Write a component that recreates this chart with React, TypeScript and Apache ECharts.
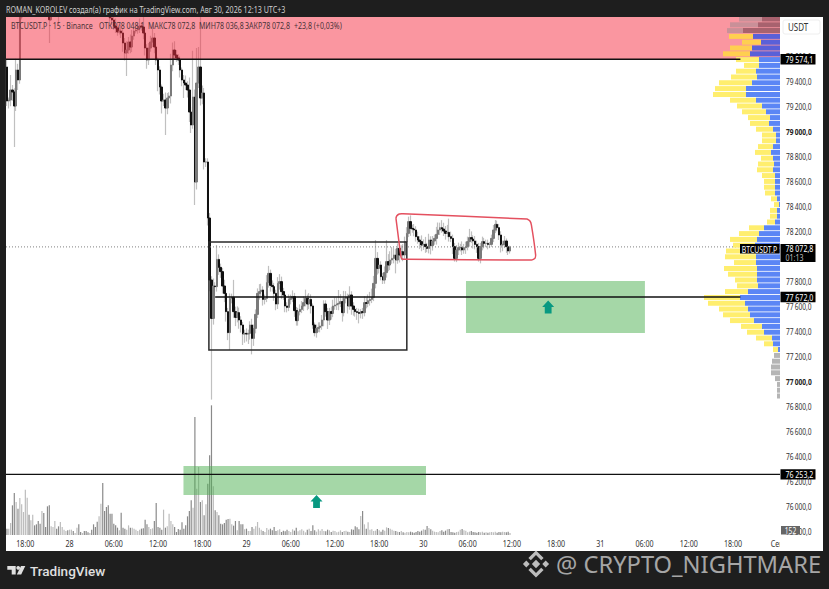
import React, { useEffect, useRef } from "react";
import * as echarts from "echarts";

const FONT = "'Noto Sans', sans-serif";
const firstOpen = 79512;
const closes = [
  79240,79248,79328,79312,79200,79488,79408,79912,79985,80030,
  80075,80120,80090,80140,80180,80150,80110,80070,80040,80090,
  80060,80020,79975,79890,79950,80000,80040,79985,79930,79990,
  80045,80090,80130,80110,80160,80200,80170,80210,80250,80220,
  80180,80225,80190,80140,80100,80130,80085,80040,80000,79970,
  80010,80070,80030,79990,79950,79920,79904,79888,79840,79824,
  79792,79800,79784,79704,79624,79648,79712,79672,79760,79800,
  79808,79824,79840,79832,79784,79664,79568,79664,79712,79744,
  79672,79568,79488,79352,79240,79248,79184,79264,79280,79528,
  79648,79608,79584,79568,79488,79408,79384,79368,79328,79152,
  79048,79272,78592,79384,79512,79264,79304,78752,78752,78304,
  77808,77501,77760,77755,77973,77909,77875,77760,77701,77555,
  77387,77661,77669,77555,77509,77547,77488,77448,77376,77381,
  77376,77381,77448,77341,77421,77533,77701,77715,77728,77653,
  77661,77787,77861,77765,77755,77701,77616,77781,77795,77715,
  77688,77600,77589,77653,77661,77675,77563,77483,77555,77573,
  77600,77627,77661,77616,77653,77600,77448,77387,77421,77429,
  77440,77488,77616,77555,77488,77555,77541,77600,77608,77616,
  77621,77635,77547,77661,77669,77600,77688,77600,77573,77555,
  77549,77541,77555,77547,77627,77621,77643,77653,77669,77781,
  77981,77901,77928,77835,77808,77867,77955,77928,77968,77981,
  78008,77968,78061,78008,78035,78008,78115,78181,78275,78221,
  78216,78208,78155,78128,78115,78088,78093,78075,78061,78128,
  78083,78120,78141,78173,78208,78227,78216,78200,78181,78189,
  78155,78141,78075,77981,78048,78067,78067,78048,78067,78075,
  78115,78147,78136,78120,78093,78075,77981,78075,78115,78101,
  78101,78093,78093,78141,78208,78253,78227,78168,78088,78093,
  78120,78075,78040,78072.8,
];
const upperWicks = [
  60,20,120,40,30,90,50,210,80,60,
  70,40,90,60,50,30,70,40,100,60,
  40,80,50,60,40,90,30,50,120,40,
  60,30,50,70,40,20,60,30,80,50,
  40,60,30,50,20,40,70,30,90,60,
  50,120,150,60,80,40,60,50,30,60,
  40,30,50,30,40,70,40,60,50,30,
  30,40,60,30,80,20,30,40,50,100,
  40,30,20,30,20,50,60,40,30,90,
  60,70,40,30,30,20,40,60,30,100,
  40,370,60,280,160,490,60,40,30,30,
  40,30,60,30,115,40,30,30,50,30,
  30,40,30,140,40,50,40,30,25,30,
  40,30,30,50,30,40,40,60,50,30,
  30,60,60,30,40,30,30,50,60,40,
  30,30,30,40,30,50,30,30,30,40,
  40,50,70,30,50,40,20,20,30,40,
  30,40,30,30,30,30,40,50,60,50,
  107,60,30,60,50,30,70,30,30,20,
  30,30,20,30,50,40,50,60,70,60,
  147,50,40,30,30,50,173,60,70,90,
  60,50,40,30,50,60,40,50,40,50,
  30,40,30,40,30,50,40,60,30,50,
  30,40,30,60,60,40,60,50,40,60,
  110,40,30,30,40,40,30,50,30,40,
  40,70,50,30,40,30,30,30,40,30,
  30,30,20,30,40,35,30,30,30,30,
  40,20,30,10,
];
const lowerWicks = [
  40,60,50,70,328,40,80,30,20,15,
  20,15,25,10,20,15,20,25,15,20,
  10,20,15,186,10,15,20,15,82,10,
  20,15,25,10,20,15,20,25,15,20,
  10,20,15,20,10,15,20,15,25,15,
  20,15,25,10,20,15,30,40,30,40,
  30,20,40,70,60,184,30,50,40,30,
  20,30,40,30,50,60,70,40,30,40,
  50,40,170,60,100,40,216,50,40,60,
  50,40,30,40,60,50,120,40,60,80,
  64,30,184,60,40,60,50,60,40,60,
  90,650,50,60,40,60,50,60,70,80,
  60,139,40,50,70,40,70,60,88,70,
  60,80,50,128,60,40,30,50,40,50,
  40,30,40,50,40,60,50,40,50,60,
  40,50,40,30,40,30,50,40,40,30,
  30,40,30,50,40,60,30,30,40,30,
  40,30,50,40,72,40,50,30,30,40,
  50,30,72,30,40,60,30,70,50,40,
  60,80,40,50,30,40,30,40,30,30,
  40,50,40,30,32,30,40,50,40,30,
  40,107,30,60,40,50,30,40,30,60,
  30,50,40,30,60,50,40,50,30,40,
  70,40,30,50,30,40,30,40,50,30,
  40,30,60,26,30,40,30,40,30,50,
  30,40,30,60,40,50,26,40,30,40,
  30,40,30,20,30,25,30,40,60,50,
  30,50,32,20,
];
const volumes = [
  475,475,900,2225,3150,2475,1975,2775,2300,1725,
  3400,2800,1525,1100,1525,725,800,1050,850,1800,
  1650,600,2150,2225,650,600,1050,475,650,975,
  600,400,300,350,400,400,300,150,550,800,
  225,150,300,300,200,150,400,800,600,1000,
  1400,2350,3900,1800,2100,2225,1600,1600,850,725,
  550,350,1675,550,475,400,725,550,550,475,
  400,300,400,475,500,1150,800,600,450,500,
  1050,2400,600,550,400,1900,550,650,1600,1050,
  800,600,225,450,400,950,475,725,1400,1800,
  2600,2050,8850,3475,5100,2475,2600,1475,2300,3850,
  5975,9725,3650,1850,1725,1475,850,800,900,1150,
  1200,1225,800,700,1050,350,1050,800,800,425,
  475,300,300,600,475,650,975,550,400,300,
  225,525,400,475,350,600,300,350,425,225,
  325,275,400,300,225,425,325,550,275,350,
  425,325,200,400,475,300,725,350,250,425,
  325,450,300,275,400,350,225,325,300,200,
  250,350,225,300,325,250,225,425,400,650,
  575,425,1425,1800,800,475,950,400,425,300,
  325,450,350,250,400,325,575,525,475,400,
  325,300,250,225,300,200,175,225,200,250,
  200,175,225,300,250,325,425,400,675,525,
  425,325,250,225,200,300,350,250,325,425,
  450,225,200,175,225,250,400,450,350,325,
  200,250,300,225,200,175,225,200,250,175,
  200,175,200,225,200,250,175,225,200,250,
  225,200,250,152,
];
const profileBuy = [
  18,22,37,27,19,28,30,21,21,24,23,28,34,34,24,18,14,10,11,7,
  4,4,7,9,7,6,7,5,5,5,5,3,1,3,3,5,16,21,23,25,
  24,24,24,23,23,23,22,32,40,35,32,30,26,18,16,8,7,2,0,0,
  0,0,0,0,0,0,
];
const profileSell = [
  23,28,16,24,19,22,27,23,15,20,26,33,31,33,26,25,24,22,19,17,
  14,14,15,16,12,16,16,13,11,11,10,6,5,7,7,8,15,20,27,22,
  30,31,22,33,29,22,21,23,36,37,29,27,24,21,17,16,9,5,0,0,
  0,0,0,0,0,0,
];
const profileOutside = [
  0,0,0,0,0,0,0,0,0,0,0,0,0,0,0,0,0,0,0,0,
  0,0,0,0,0,0,0,0,0,0,0,0,0,0,0,0,0,0,0,0,
  0,0,0,0,0,0,0,0,0,0,0,0,0,0,0,0,0,0,6,8,
  9,9,5,3,3,3,
];
const tickLabels = ["18:00","28","06:00","12:00","18:00","29","06:00","12:00","18:00","30","06:00","12:00","18:00","31","06:00","12:00","18:00","Сен"];
const priceTicks = [
  79600,79400,79200,79000,78800,78600,78400,78200,77800,77600,77400,
  77200,77000,76800,76600,76400,76200,76000,75800,
];
const boldTicks = [79000, 77000];
const legendParts: [number, string][] = [
  [11, "BTCUSDT.P · 15 · Binance"],
  [99, "ОТКР78 048,1"],
  [148, "МАКС78 072,8"],
  [199, "МИН78 036,8"],
  [245, "ЗАКР78 072,8"],
  [294, "+23,8 (+0,03%)"],
];
const boxes = [{ from: 109.6, to: 217, top: 78112, bottom: 77248 }];
const zones = [
  { from: 249.1, to: 346.2, top: 77800, bottom: 77384 },
  { from: 95.8, to: 227.4, top: 76320, bottom: 76088 },
];
const arrows = [{ at: 168, price: 76036 }, { at: 293.7, price: 77592 }];
const levels = [
  { price: 79574.1, from: -0.5, to: 398 },
  { price: 77672, from: 113, to: 398 },
  { price: 76253.2, from: -0.5, to: 419.5 },
];
const lastPrice = 78072.8;
const tags = [
  { price: 79574.1, text: "79 574,1" },
  { price: 77672, text: "77 672,0" },
  { price: 76253.2, text: "76 253,2" },
];
const outline: number[][] = [
  [211.1,78302],[211.5,78320],[212.9,78336],[214.9,78338],
  [282.2,78296],[283.8,78280],[284.6,78248],[286.9,78008],
  [286.5,77981],[284.7,77968],[217,77974],[214.4,77976],[213.8,77994],[211.1,78302],
];

const toPeaks = (c: number[]) => c.map((close, i) => {
  const open = i === 0 ? firstOpen : c[i - 1];
  return { open, close, high: Math.max(open, close) + (upperWicks[i] ?? 0), low: Math.min(open, close) - (lowerWicks[i] ?? 0) };
});
const candles = toPeaks(closes);
const categories = Array.from({ length: 420 }, (_, i) => String(i));

const diamond = (cx: number, cy: number, r: number) => [[cx, cy - r], [cx + r, cy], [cx, cy + r], [cx - r, cy]];
const GREY = "#bdbdbd";
const binance = (cx: number, cy: number) => [
  diamond(cx, cy, 4.2), diamond(cx - 9.7, cy, 3.4), diamond(cx + 9.7, cy, 3.4),
  [[cx, cy - 13.5], [cx + 7.6, cy - 6], [cx + 5.2, cy - 3.7], [cx, cy - 8.9], [cx - 5.2, cy - 3.7], [cx - 7.6, cy - 6]],
  [[cx, cy + 13.5], [cx + 7.6, cy + 6], [cx + 5.2, cy + 3.7], [cx, cy + 8.9], [cx - 5.2, cy + 3.7], [cx - 7.6, cy + 6]],
];

// The reference's type is condensed, so all small labels are drawn squeezed horizontally.
const label = (x: number, y: number, text: string, o: any = {}) => ({
  type: "text", x, y, scaleX: o.sx ?? 0.72, z: o.z,
  style: {
    x: 0, y: 0, text, fill: o.color ?? "#333",
    font: `${o.weight ?? 400} ${o.size ?? 9.5}px ${FONT}`,
    textAlign: o.align ?? "left", textVerticalAlign: "middle",
  },
});
const priceText = (v: number) => `${Math.floor(v / 1000)}\u2009${String(v % 1000).padStart(3, "0")},0`;

export default function App() {
  const ref = useRef<HTMLDivElement>(null);
  useEffect(() => {
    document.body.style.margin = "0";
    const chart = echarts.init(ref.current!, null, { renderer: "svg" });
    const annot = (name: string, z: number, draw: (api: any) => any[]) => ({
      type: "custom", name, z, xAxisIndex: 1, yAxisIndex: 0, clip: false, silent: true,
      data: [[0, 78000]], encode: { x: 0, y: 1 },
      renderItem: (_: any, api: any) => ({ type: "group", children: draw(api) }),
    });
    const rectOf = (api: any, a: any) => {
      const p0 = api.coord([a.from, a.top]);
      const p1 = api.coord([a.to, a.bottom]);
      return { x: p0[0], y: p0[1], width: p1[0] - p0[0], height: p1[1] - p0[1] };
    };
    chart.setOption({
      animation: false,
      backgroundColor: "#1e1e1e",
      grid: [
        { left: 6, top: 6, width: 774, height: 550 },
        { left: 6, top: 400, width: 774, height: 135 },
        { left: 680, top: 16.1, width: 100, height: 382.8 },
      ],
      xAxis: [
        { type: "category", gridIndex: 0, data: categories, show: false },
        { type: "value", gridIndex: 0, min: -0.5, max: 419.5, show: false },
        { type: "category", gridIndex: 1, data: categories, show: false },
        { type: "value", gridIndex: 2, inverse: true, min: 0, max: 100, show: false },
      ],
      yAxis: [
        { type: "value", gridIndex: 0, position: "right", min: 75600, max: 80000, scale: true, show: false },
        { type: "value", gridIndex: 1, min: 0, max: 10125, show: false },
        { type: "category", gridIndex: 2, inverse: true, data: profileBuy.map((_, k) => String(k)), show: false },
      ],
      series: [
        {
          type: "bar", xAxisIndex: 2, yAxisIndex: 1, z: 1, barWidth: 1.2,
          data: volumes.map((v, i) => ({
            value: v,
            itemStyle: { color: candles[i].close < candles[i].open ? "#8a8a8a" : "#bdbdbd" },
          })),
        },
        {
          type: "candlestick", name: "wicks", xAxisIndex: 0, yAxisIndex: 0, z: 2, barWidth: 1,
          itemStyle: { color: "#c0c0c0", color0: "#c0c0c0", borderColor: "#c0c0c0", borderColor0: "#c0c0c0", borderWidth: 1.2 },
          data: candles.map((c) => [c.open, c.close, c.low, c.high]),
        },
        {
          type: "candlestick", name: "BTCUSDT.P", xAxisIndex: 0, yAxisIndex: 0, z: 2.5, barWidth: 2,
          itemStyle: { color: "#7a7a7a", color0: "#111111", borderColor: "#7a7a7a", borderColor0: "#111111", borderWidth: 1 },
          data: candles.map((c) => [c.open, c.close, Math.min(c.open, c.close), Math.max(c.open, c.close)]),
        },
        annot("dotted", 2.8, (api) => {
          const p0 = api.coord([-0.5, lastPrice]);
          const p1 = api.coord([397, lastPrice]);
          return [{ type: "line", shape: { x1: p0[0], y1: p0[1], x2: p1[0], y2: p1[1] }, style: { stroke: "#808080", lineWidth: 1, lineDash: [1, 2] } }];
        }),
        annot("supply", 3, (api) => {
          const r = rectOf(api, { from: -0.5, to: 419.5, top: 80000, bottom: 79574.1 });
          return [{ type: "rect", shape: r, style: { fill: "rgba(245,45,65,0.5)" } }];
        }),
        ...[
          { name: "sell", data: profileSell, normal: "#FFEE6E", pale: "#C99098", warm: "#FFCF50" },
          { name: "buy", data: profileBuy, normal: "#5B86F5", pale: "#A8626E", warm: "#5A60D8" },
        ].reverse().map((s) => ({
          type: "bar", name: s.name, xAxisIndex: 3, yAxisIndex: 2, stack: "vp", z: 4, barWidth: 5,
          data: s.data.map((v, k) => ({ value: v, itemStyle: { color: k < 3 ? s.pale : k < 7 ? s.warm : s.normal } })),
        })),
        { type: "bar", name: "outside", xAxisIndex: 3, yAxisIndex: 2, stack: "vp", z: 4, barWidth: 5, itemStyle: { color: "#b5b5b5" }, data: profileOutside },
        annot("zones", 5, (api) => zones.map((z) => ({ type: "rect", shape: rectOf(api, z), style: { fill: "rgba(76,175,80,0.5)" } }))),
        annot("levels", 5.5, (api) => [
          ...levels.map((l) => {
            const p0 = api.coord([l.from, l.price]);
            const p1 = api.coord([l.to, l.price]);
            return { type: "line", shape: { x1: p0[0], y1: p0[1], x2: p1[0], y2: p1[1] }, style: { stroke: "#111", lineWidth: 1.4 } };
          }),
          ...boxes.map((b) => ({ type: "rect", shape: rectOf(api, b), style: { fill: "none", stroke: "#2a2a2a", lineWidth: 1.5 } })),
          { type: "polyline", shape: { points: outline.map((p) => api.coord(p)), smooth: 0.12 }, style: { fill: "none", stroke: "#e4505f", lineWidth: 1.5 } },
          ...arrows.map((a) => {
            const [x, y] = api.coord([a.at, a.price]);
            return {
              type: "polygon",
              shape: { points: [[x, y - 6.5], [x + 6, y], [x + 3.4, y], [x + 3.4, y + 6.5], [x - 3.4, y + 6.5], [x - 3.4, y], [x - 6, y]] },
              style: { fill: "#089981" },
            };
          }),
        ]),
        annot("axisLabels", 10, (api) => [
          ...priceTicks.map((v) => {
            const y = api.coord([0, v])[1];
            const bold = boldTicks.includes(v);
            return label(786, y, priceText(v), { sx: 0.7, weight: bold ? 700 : 400, color: bold ? "#222" : "#333" });
          }),
          ...tickLabels.map((t, n) => label(api.coord([10 + 24 * n, 78000])[0], 543.5, t, { align: "center", sx: 0.75 })),
        ]),
        annot("tags", 60, (api) => {
          const last = api.coord([0, lastPrice])[1];
          return [
            ...tags.flatMap((t) => {
              const y = api.coord([0, t.price])[1];
              return [
                { type: "rect", shape: { x: 780.5, y: y - 5.2, width: 35, height: 10.4 }, style: { fill: "#000" } },
                label(785.5, y, t.text, { color: "#fff", sx: 0.74 }),
              ];
            }),
            { type: "rect", shape: { x: 740, y: last - 3, width: 39.5, height: 9.5 }, style: { fill: "#000" } },
            label(741.8, last + 1.7, "BTCUSDT.P", { color: "#fff", sx: 0.72 }),
            { type: "rect", shape: { x: 780.5, y: last - 3, width: 35, height: 18 }, style: { fill: "#000" } },
            label(785.5, last + 1.5, "78 072,8", { color: "#fff", sx: 0.74 }),
            label(785.5, last + 10, "01:13", { color: "#bbb", sx: 0.74 }),
            { type: "rect", shape: { x: 781, y: 526, width: 19, height: 8.5 }, style: { fill: "#666" } },
            label(790.5, 530.3, "152", { color: "#fff", align: "center", size: 9, sx: 0.74 }),
            { type: "rect", shape: { x: 783, y: 20, width: 37, height: 14, r: 2 }, style: { fill: "#fff", stroke: "#eeeeee", lineWidth: 1 } },
            label(788, 27.5, "USDT", { sx: 0.8, size: 10 }),
          ];
        }),
      ],
      graphic: {
        elements: [
          { type: "rect", z: -5, shape: { x: 6, y: 17, width: 817, height: 534 }, style: { fill: "#fff" } },
          { type: "rect", z: 50, shape: { x: 0, y: 0, width: 829, height: 17 }, style: { fill: "#1e1e1e" } },
          { type: "rect", z: 50, shape: { x: 0, y: 551, width: 829, height: 38 }, style: { fill: "#1e1e1e" } },
          { type: "rect", z: 50, shape: { x: 780, y: 536, width: 43, height: 15 }, style: { fill: "#fff" } },
          label(6, 9, "ROMAN_KOROLEV создал(а) график на TradingView.com, Авг 30, 2026 12:13 UTC+3", { color: "#d0d0d0", sx: 0.75, z: 51 }),
          ...legendParts.map(([x, t]) => label(x, 25.5, t, { color: "#4a3338", sx: 0.74, z: 51 })),
          { type: "polygon", z: 51, shape: { points: [[7.3, 566], [15.7, 566], [15.7, 574.5], [11.7, 574.5], [11.7, 569.7], [7.3, 569.7]] }, style: { fill: "#e0e0e0" } },
          { type: "circle", z: 51, shape: { cx: 18.2, cy: 567.8, r: 1.9 }, style: { fill: "#e0e0e0" } },
          { type: "polygon", z: 51, shape: { points: [[21, 566], [25.3, 566], [21.2, 574.5], [16.8, 574.5]] }, style: { fill: "#e0e0e0" } },
          { type: "text", z: 51, x: 30, y: 571, style: { text: "TradingView", fill: "#e0e0e0", font: `500 13.5px Roboto, sans-serif`, textVerticalAlign: "middle" } },
          ...binance(536, 564).map((points) => ({ type: "polygon", z: 51, shape: { points }, style: { fill: GREY } })),
          { type: "text", z: 51, x: 556, y: 564, style: { text: "@ CRYPTO_NIGHTMARE", fill: "#a6a6a6", font: `23.7px 'Noto Sans', sans-serif`, textVerticalAlign: "middle" } },
        ],
      },
    });
    return () => chart.dispose();
  }, []);
  return <div ref={ref} style={{ width: 829, height: 589 }} />;
}
